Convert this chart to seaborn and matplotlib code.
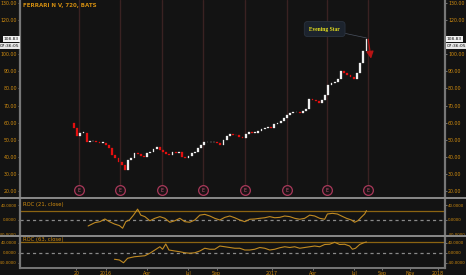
import numpy as np
import pandas as pd
import matplotlib
matplotlib.use("Agg")
import matplotlib.pyplot as plt
import matplotlib.dates as mdates
from matplotlib.lines import Line2D
import seaborn as sns

# ---------------- data ----------------
week_start = "2015-10-23"
first_open = 60.0
weekly_close = [
    57, 52, 54, 54, 48.5, 49, 49.5, 48.5, 48, 48,
    47, 45, 41, 39.5, 37, 35, 32.5, 38, 39.5, 42,
    41.5, 40.5, 40, 42, 43, 44.5, 46, 44, 43, 41.5,
    41, 43, 42.5, 43, 40, 39.5, 40.5, 42.5, 43, 45,
    47, 48.5, 48.5, 48.5, 48.5, 48, 47, 50, 52, 53.5,
    53, 52.5, 51.5, 51, 53.5, 54.5, 54, 54, 55, 56.5,
    57, 57.5, 57, 59, 60, 61, 62.5, 64.5, 65.5, 66,
    66, 65.5, 67, 68, 74, 73, 72.5, 71.5, 73, 76,
    82, 83.5, 84, 85.5, 90, 89, 88, 86.5, 85.5, 89,
    95, 102, 108.83,
]

roc21_dates = [
    "2015-11-23", "2015-12-08", "2015-12-19", "2015-12-30", "2016-01-09", "2016-01-20",
    "2016-01-31", "2016-02-07", "2016-02-14", "2016-02-22", "2016-03-02", "2016-03-11",
    "2016-03-18", "2016-03-27", "2016-04-07", "2016-04-18", "2016-04-29", "2016-05-10",
    "2016-05-21", "2016-06-01", "2016-06-12", "2016-06-23", "2016-07-04", "2016-07-15",
    "2016-07-26", "2016-08-06", "2016-08-17", "2016-08-28", "2016-09-08", "2016-09-19",
    "2016-09-30", "2016-10-11", "2016-10-22", "2016-11-02", "2016-11-13", "2016-11-24",
    "2016-12-05", "2016-12-16", "2016-12-27", "2017-01-07", "2017-01-18", "2017-01-29",
    "2017-02-09", "2017-02-20", "2017-03-03", "2017-03-14", "2017-03-25", "2017-04-05",
    "2017-04-16", "2017-04-27", "2017-05-03", "2017-05-14", "2017-05-25", "2017-06-03",
    "2017-06-14", "2017-06-25", "2017-07-02", "2017-07-09", "2017-07-18", "2017-07-24",
    "2017-07-28",
]
roc21_values = [
    -16, -7, -4.5, 2.7, -4.5, -10.7,
    -15, -22, -4.5, 0, 13, 29,
    13, 9, -2, 4.5, 9, 4.5,
    -6, -2, 4.5, -4.5, -6, 0,
    13, 15, 10.7, 4.5, 0, 7,
    10.7, 6, 0, -4.5, 2, 2.7,
    4.5, 6, 9, 6, 7, 10.7,
    9, 4.5, 2, 4.5, 13, 10.7,
    4.5, 2, 16, 17.8, 16, 10.7,
    4.5, 0, -6, -2, 9, 16,
    25,
]

roc63_dates = [
    "2016-01-20", "2016-01-31", "2016-02-09", "2016-02-18", "2016-03-04", "2016-03-27",
    "2016-04-07", "2016-04-18", "2016-04-29", "2016-05-05", "2016-05-12", "2016-05-19",
    "2016-06-01", "2016-06-12", "2016-06-23", "2016-07-04", "2016-07-15", "2016-07-26",
    "2016-08-06", "2016-08-17", "2016-08-28", "2016-09-08", "2016-09-19", "2016-09-30",
    "2016-10-11", "2016-10-22", "2016-11-02", "2016-11-13", "2016-11-24", "2016-12-05",
    "2016-12-16", "2016-12-27", "2017-01-07", "2017-01-18", "2017-01-29", "2017-02-09",
    "2017-02-20", "2017-03-03", "2017-03-14", "2017-03-25", "2017-04-05", "2017-04-16",
    "2017-04-27", "2017-05-08", "2017-05-19", "2017-05-30", "2017-06-10", "2017-06-21",
    "2017-06-27", "2017-07-04", "2017-07-13", "2017-07-22", "2017-07-28",
]
roc63_values = [
    -25, -28, -39, -21, -15, -11,
    -1, 12, 25, 15, 36, 12,
    8, 5, 1, -1, 1, 8,
    19, 15, 15, 28, 25, 22,
    19, 19, 12, 12, 15, 22,
    19, 12, 15, 21, 25, 22,
    25, 19, 22, 25, 28, 25,
    34, 35, 43, 34, 35, 28,
    15, 19, 34, 41, 44,
]

earnings_dates = ["2015-11-02", "2016-02-02", "2016-05-03", "2016-08-02",
                  "2016-11-03", "2017-02-02", "2017-05-03", "2017-07-31"]

price_ticks = [20, 30, 40, 50, 60, 70, 80, 90, 100, 120, 130]
roc_ticks = [-40, 0, 40]
xtick_dates = ["2015-10-28", "2016-01-01", "2016-04-01", "2016-07-01", "2016-09-01",
               "2017-01-01", "2017-04-01", "2017-07-01", "2017-09-01", "2017-11-01",
               "2018-01-01"]
xtick_labels = ["20", "2016", "Apr", "Jul", "Sep", "2017", "Apr", "Jul", "Sep", "Nov", "2018"]

title = "FERRARI N V, 720, BATS"
last_price_label = "108.83"
countdown_label = "07:36:05"
pattern_label = "Evening Star"

# ---------------- styling ----------------
BG = "#131313"
TXT = "#d08c10"
SPINE = "#777777"
ROC_COL = "#c08a22"
LAST_COL = "#8c6412"
FS = 3.4
FS_ROC = 2.9

sns.set_theme(style="dark", rc={
    "axes.facecolor": BG, "figure.facecolor": BG, "savefig.facecolor": BG,
    "axes.edgecolor": SPINE, "text.color": TXT,
    "xtick.color": TXT, "ytick.color": TXT,
})
plt.rcParams["font.family"] = ["DejaVu Sans"]

W, H = 466, 275
fig = plt.figure(figsize=(W / 100, H / 100), dpi=100)
L, R = 20, 445
ax1 = fig.add_axes([L / W, 77 / H, (R - L) / W, 198 / H])
ax2 = fig.add_axes([L / W, 39 / H, (R - L) / W, 38 / H], sharex=ax1)
ax3 = fig.add_axes([L / W, 7 / H, (R - L) / W, 32 / H], sharex=ax1)

dates = pd.date_range(week_start, periods=len(weekly_close), freq="7D")
xw = mdates.date2num(dates.to_pydatetime())
close = np.array(weekly_close, dtype=float)
opn = np.concatenate([[first_open], close[:-1]])
up = close >= opn
cols = np.where(up, "#eeeeee", "#e31010")
height = np.where(np.abs(close - opn) < 0.4, 0.4 * np.sign(close - opn + 1e-9), close - opn)

ex = mdates.date2num(pd.to_datetime(earnings_dates).to_pydatetime())
for e in ex:
    ax1.axvline(e, ymin=0.07, ymax=1, color="#3a2222", lw=1.0, zorder=0)

ax1.bar(xw, height, bottom=opn, width=4.0, color=cols, edgecolor=cols,
        linewidth=0.2, zorder=3)

# earnings markers
tr = ax1.get_xaxis_transform()
ax1.plot(ex, [0.04] * len(ex), "o", ms=7, mfc="#1a1315", mec="#a8385a", mew=0.9,
         transform=tr, zorder=4, ls="none")
for e in ex:
    ax1.text(e, 0.04, "E", transform=tr, ha="center", va="center",
             fontsize=3.3, color="#c8587a", zorder=5)

# ROC lines via seaborn
df21 = pd.DataFrame({"x": mdates.date2num(pd.to_datetime(roc21_dates).to_pydatetime()),
                     "roc": roc21_values})
df63 = pd.DataFrame({"x": mdates.date2num(pd.to_datetime(roc63_dates).to_pydatetime()),
                     "roc": roc63_values})
sns.lineplot(data=df21, x="x", y="roc", ax=ax2, color=ROC_COL, lw=0.8, zorder=3)
sns.lineplot(data=df63, x="x", y="roc", ax=ax3, color=ROC_COL, lw=0.8, zorder=3)
ax2.axhline(roc21_values[-1], color=LAST_COL, lw=0.9, zorder=2)
ax3.axhline(roc63_values[-1], color=LAST_COL, lw=0.9, zorder=2)
for a in (ax2, ax3):
    a.axhline(0, color="#8a8a8a", lw=0.9, ls=(0, (2.5, 2.5)), zorder=1)

# limits
x0 = mdates.date2num(pd.Timestamp("2015-06-26").to_pydatetime())
x1 = mdates.date2num(pd.Timestamp("2018-01-17").to_pydatetime())
ax1.set_xlim(x0, x1)
ax1.set_ylim(15.9, 131.8)
ax2.set_ylim(-42.7, 58.7)
ax3.set_ylim(-60, 68)

for a, fs in ((ax1, FS), (ax2, FS_ROC), (ax3, FS_ROC)):
    a.set_facecolor(BG)
    a.grid(False)
    a.set_xlabel("")
    a.set_ylabel("")
    for s in ("top", "bottom"):
        a.spines[s].set_visible(False)
    for s in ("left", "right"):
        a.spines[s].set_color(SPINE)
        a.spines[s].set_linewidth(1.6)
    a.tick_params(axis="y", which="both", left=True, right=True, labelleft=True,
                  labelright=True, length=1.5, width=0.5, color="#999999",
                  labelsize=fs, labelcolor=TXT, pad=0.7)
    a.tick_params(axis="x", which="both", bottom=False, labelbottom=False)

ax1.set_yticks(price_ticks)
ax1.set_yticklabels([f"{v:.2f}" for v in price_ticks])
for a in (ax2, ax3):
    a.set_yticks(roc_ticks)
    a.set_yticklabels([f"{v:.4f}" for v in roc_ticks])

ax3.spines["bottom"].set_visible(True)
ax3.spines["bottom"].set_color(SPINE)
ax3.spines["bottom"].set_linewidth(1.4)
xt = mdates.date2num(pd.to_datetime(xtick_dates).to_pydatetime())
ax3.set_xticks(xt)
ax3.set_xticklabels(xtick_labels)
ax3.tick_params(axis="x", bottom=True, labelbottom=True, length=1.5, width=0.5,
                color="#999999", labelsize=FS, labelcolor=TXT, pad=0.8)

# panel titles
ax1.text(0.008, 0.985, title, transform=ax1.transAxes, ha="left", va="top",
         fontsize=4.0, fontweight="bold", color=TXT)
ax2.text(0.008, 0.9, "ROC (21, close)", transform=ax2.transAxes, ha="left", va="top",
         fontsize=3.8, color=TXT)
ax3.text(0.008, 0.97, "ROC (63, close)", transform=ax3.transAxes, ha="left", va="top",
         fontsize=3.8, color=TXT)

# Evening Star annotation
last_x = xw[-1]
bx = mdates.date2num(pd.Timestamp("2017-04-27").to_pydatetime())
ax1.annotate(pattern_label, xy=(last_x, 109.6), xytext=(bx, 114.8),
             ha="center", va="center", fontsize=4, fontweight="bold",
             family=["Liberation Serif", "DejaVu Serif"], color="#e6e01e",
             bbox=dict(boxstyle="round,pad=0.9,rounding_size=0.6", fc="#1c232d",
                       ec="#2a323e", lw=0.6),
             arrowprops=dict(arrowstyle="-", color="#4a5260", lw=0.5,
                             shrinkA=0, shrinkB=0), zorder=6)
ax1.annotate("", xy=(last_x + 10, 97.5), xytext=(last_x + 4, 108.8),
             arrowprops=dict(arrowstyle="-|>,head_length=0.35,head_width=0.18",
                             color="#b81414", lw=0.9, shrinkA=0, shrinkB=0), zorder=6)

# panel separators
for yy in (77, 39):
    fig.add_artist(Line2D([0, 1], [yy / H, yy / H], color="#8a8a8a", lw=1.4))

# last price boxes
for xx, ha in ((19 / W, "right"), (447 / W, "left")):
    fig.text(xx, (275 - 39) / H, last_price_label, ha=ha, va="center", fontsize=3.2,
             color="#111111", bbox=dict(boxstyle="square,pad=0.25", fc="#f2f2f2", ec="none"))
    fig.text(xx, (275 - 46) / H, countdown_label, ha=ha, va="center", fontsize=3.2,
             color="#111111", bbox=dict(boxstyle="square,pad=0.25", fc="#e6e6e6", ec="none"))

fig.savefig("out.png", dpi=100, facecolor=BG)
